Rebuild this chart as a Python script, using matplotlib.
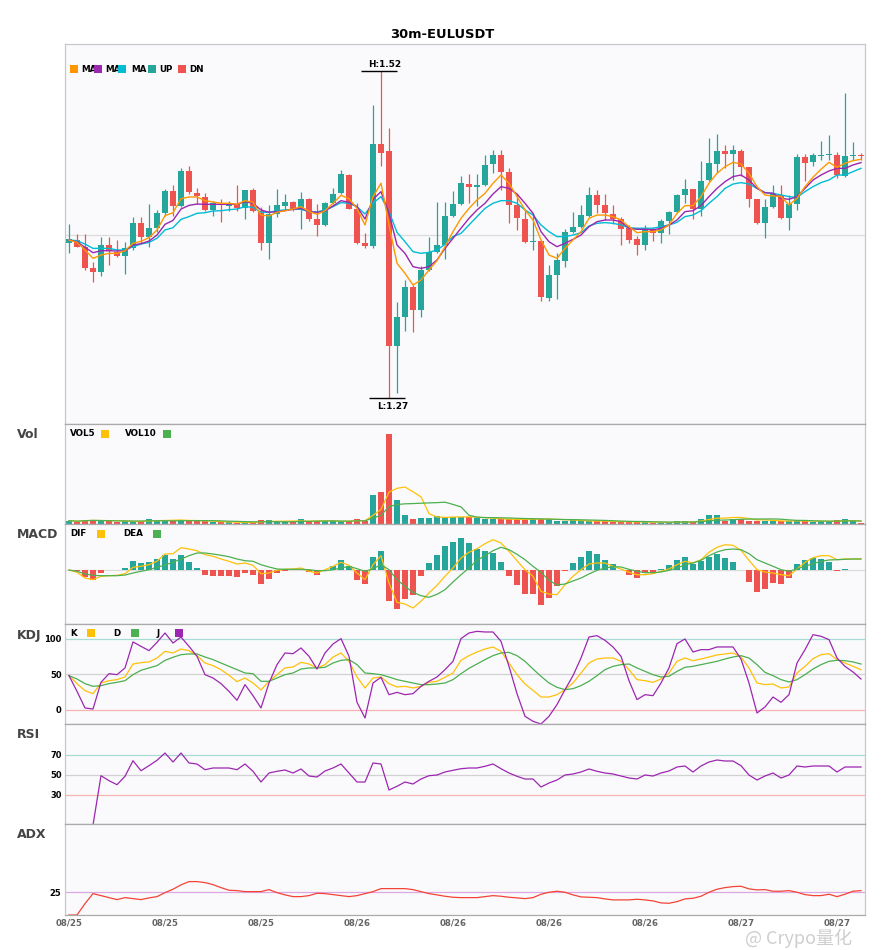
#!/usr/bin/env python3
"""Recreates the 30m EULUSDT candle chart with Vol / MACD / KDJ / RSI / ADX panels."""

import matplotlib

matplotlib.use("Agg")
import matplotlib.pyplot as plt
from matplotlib.patches import Rectangle

TITLE = "30m-EULUSDT"
DATE_TICKS = [0, 12, 24, 36, 48, 60, 72, 84, 96]
DATE_LABELS = ["08/25", "08/25", "08/25", "08/26", "08/26", "08/26", "08/26", "08/27", "08/27"]
REF_PRICE = 1.395

OPEN = [1.3889, 1.3910, 1.3854, 1.3695, 1.3667, 1.3871, 1.3815, 1.3790, 1.3846, 1.4040,
        1.3935, 1.4001, 1.4116, 1.4285, 1.4170, 1.4438, 1.4269, 1.4239, 1.4139, 1.4185,
        1.4172, 1.4183, 1.4152, 1.4292, 1.4134, 1.3889, 1.4112, 1.4172, 1.4200, 1.4139,
        1.4223, 1.4070, 1.4027, 1.4193, 1.4269, 1.4407, 1.4149, 1.3887, 1.3866, 1.4644,
        1.4591, 1.3102, 1.3321, 1.3550, 1.3374, 1.3680, 1.3818, 1.3871, 1.4093, 1.4185,
        1.4338, 1.4318, 1.4330, 1.4491, 1.4560, 1.4430, 1.4177, 1.4070, 1.3897, 1.3902,
        1.3469, 1.3642, 1.3752, 1.3971, 1.4009, 1.4093, 1.4254, 1.4177, 1.4109, 1.4070,
        1.4001, 1.3917, 1.3871, 1.3994, 1.3963, 1.4055, 1.4124, 1.4254, 1.4300, 1.4147,
        1.4369, 1.4491, 1.4591, 1.4568, 1.4591, 1.4468, 1.4223, 1.4040, 1.4162, 1.4254,
        1.4078, 1.4185, 1.4545, 1.4506, 1.4555, 1.4562, 1.4560, 1.4399, 1.4555, 1.4560]
HIGH = [1.4032, 1.3953, 1.3953, 1.3739, 1.3933, 1.3933, 1.3907, 1.3894, 1.4088, 1.4088,
        1.4185, 1.4142, 1.4297, 1.4330, 1.4463, 1.4476, 1.4310, 1.4272, 1.4211, 1.4223,
        1.4205, 1.4330, 1.4295, 1.4307, 1.4165, 1.4177, 1.4297, 1.4262, 1.4211, 1.4274,
        1.4228, 1.4185, 1.4200, 1.4307, 1.4445, 1.4415, 1.4190, 1.3966, 1.4943, 1.5200,
        1.4767, 1.3435, 1.3604, 1.3565, 1.3713, 1.3933, 1.4200, 1.4198, 1.4285, 1.4399,
        1.4415, 1.4415, 1.4560, 1.4598, 1.4598, 1.4460, 1.4262, 1.4139, 1.4116, 1.3910,
        1.3718, 1.3808, 1.3994, 1.4124, 1.4177, 1.4315, 1.4292, 1.4262, 1.4177, 1.4086,
        1.4024, 1.3940, 1.4024, 1.4009, 1.4070, 1.4132, 1.4262, 1.4377, 1.4302, 1.4514,
        1.4690, 1.4721, 1.4637, 1.4637, 1.4606, 1.4470, 1.4225, 1.4223, 1.4330, 1.4330,
        1.4254, 1.4568, 1.4568, 1.4575, 1.4667, 1.4713, 1.4583, 1.5034, 1.4659, 1.4575]
LOW = [1.3808, 1.3854, 1.3680, 1.3591, 1.3637, 1.3718, 1.3777, 1.3650, 1.3833, 1.3884,
       1.3859, 1.3973, 1.4093, 1.4093, 1.4165, 1.4262, 1.4188, 1.4132, 1.4096, 1.4050,
       1.4129, 1.4134, 1.4070, 1.4126, 1.3833, 1.3767, 1.4088, 1.4139, 1.4134, 1.3994,
       1.4058, 1.3943, 1.4019, 1.4185, 1.4262, 1.4144, 1.3882, 1.3846, 1.3846, 1.4476,
       1.2700, 1.2737, 1.3216, 1.3208, 1.3323, 1.3675, 1.3808, 1.3767, 1.4088, 1.4177,
       1.4190, 1.4172, 1.4325, 1.4425, 1.4292, 1.4040, 1.3986, 1.3887, 1.3833, 1.3446,
       1.3446, 1.3461, 1.3706, 1.3966, 1.4004, 1.4088, 1.4114, 1.4063, 1.4033, 1.3874,
       1.3887, 1.3795, 1.3833, 1.3902, 1.3887, 1.3956, 1.4116, 1.4193, 1.4070, 1.4093,
       1.4361, 1.4422, 1.4460, 1.4369, 1.4399, 1.4162, 1.4033, 1.3925, 1.4155, 1.4070,
       1.3986, 1.4139, 1.4361, 1.4476, 1.4522, 1.4522, 1.4384, 1.4392, 1.4522, 1.4522]
CLOSE = [1.3915, 1.3859, 1.3695, 1.3667, 1.3871, 1.3828, 1.3790, 1.3846, 1.4040, 1.3935,
         1.4001, 1.4116, 1.4285, 1.4170, 1.4438, 1.4277, 1.4249, 1.4139, 1.4193, 1.4180,
         1.4183, 1.4157, 1.4292, 1.4134, 1.3889, 1.4112, 1.4177, 1.4200, 1.4149, 1.4223,
         1.4070, 1.4027, 1.4193, 1.4262, 1.4415, 1.4149, 1.3887, 1.3866, 1.4644, 1.4578,
         1.3102, 1.3321, 1.3550, 1.3374, 1.3680, 1.3818, 1.3871, 1.4093, 1.4185, 1.4346,
         1.4315, 1.4328, 1.4483, 1.4560, 1.4430, 1.4177, 1.4078, 1.3894, 1.3902, 1.3476,
         1.3642, 1.3757, 1.3971, 1.4009, 1.4101, 1.4254, 1.4177, 1.4116, 1.4070, 1.3994,
         1.3910, 1.3871, 1.3994, 1.3963, 1.4055, 1.4124, 1.4254, 1.4300, 1.4147, 1.4361,
         1.4499, 1.4591, 1.4568, 1.4598, 1.4468, 1.4223, 1.4040, 1.4162, 1.4262, 1.4078,
         1.4185, 1.4545, 1.4499, 1.4560, 1.4560, 1.4568, 1.4407, 1.4552, 1.4560, 1.4555]

MA5 = [1.3910, 1.3892, 1.3834, 1.3770, 1.3795, 1.3808, 1.3808, 1.3828, 1.3885, 1.3900,
       1.3928, 1.3987, 1.4096, 1.4119, 1.4226, 1.4239, 1.4239, 1.4211, 1.4201, 1.4191,
       1.4191, 1.4183, 1.4211, 1.4198, 1.4101, 1.4094, 1.4122, 1.4134, 1.4147, 1.4165,
       1.4129, 1.4106, 1.4134, 1.4191, 1.4252, 1.4226, 1.4152, 1.4025, 1.4242, 1.4344,
       1.4025, 1.3732, 1.3655, 1.3566, 1.3604, 1.3681, 1.3752, 1.3859, 1.3974, 1.4076,
       1.4152, 1.4216, 1.4267, 1.4344, 1.4407, 1.4344, 1.4242, 1.4140, 1.4063, 1.3910,
       1.3795, 1.3770, 1.3846, 1.3910, 1.3974, 1.4076, 1.4101, 1.4101, 1.4089, 1.4063,
       1.4012, 1.3966, 1.3974, 1.3974, 1.3987, 1.4025, 1.4114, 1.4173, 1.4173, 1.4242,
       1.4344, 1.4420, 1.4471, 1.4504, 1.4491, 1.4420, 1.4318, 1.4254, 1.4247, 1.4242,
       1.4178, 1.4229, 1.4318, 1.4390, 1.4451, 1.4504, 1.4466, 1.4497, 1.4517, 1.4527]
MA10 = [1.3910, 1.3897, 1.3854, 1.3813, 1.3828, 1.3828, 1.3826, 1.3826, 1.3872, 1.3882,
        1.3902, 1.3948, 1.4030, 1.4060, 1.4147, 1.4175, 1.4185, 1.4183, 1.4183, 1.4183,
        1.4183, 1.4183, 1.4203, 1.4191, 1.4140, 1.4122, 1.4127, 1.4134, 1.4145, 1.4152,
        1.4127, 1.4122, 1.4132, 1.4170, 1.4211, 1.4198, 1.4165, 1.4071, 1.4221, 1.4280,
        1.4114, 1.3872, 1.3808, 1.3706, 1.3693, 1.3706, 1.3757, 1.3846, 1.3923, 1.4000,
        1.4076, 1.4140, 1.4191, 1.4262, 1.4318, 1.4305, 1.4262, 1.4191, 1.4114, 1.3974,
        1.3897, 1.3859, 1.3885, 1.3915, 1.3948, 1.4012, 1.4050, 1.4063, 1.4063, 1.4050,
        1.4000, 1.3992, 1.3992, 1.3987, 1.4000, 1.4025, 1.4063, 1.4127, 1.4134, 1.4173,
        1.4242, 1.4305, 1.4356, 1.4395, 1.4407, 1.4369, 1.4305, 1.4272, 1.4267, 1.4229,
        1.4221, 1.4242, 1.4305, 1.4369, 1.4407, 1.4438, 1.4458, 1.4458, 1.4484, 1.4502]
MA20 = [1.3910, 1.3905, 1.3879, 1.3846, 1.3846, 1.3846, 1.3834, 1.3834, 1.3859, 1.3879,
        1.3892, 1.3923, 1.3987, 1.4004, 1.4068, 1.4089, 1.4114, 1.4119, 1.4132, 1.4134,
        1.4142, 1.4147, 1.4165, 1.4160, 1.4122, 1.4122, 1.4134, 1.4140, 1.4145, 1.4145,
        1.4127, 1.4124, 1.4140, 1.4165, 1.4196, 1.4191, 1.4165, 1.4109, 1.4191, 1.4242,
        1.4127, 1.3969, 1.3897, 1.3821, 1.3808, 1.3816, 1.3834, 1.3877, 1.3936, 1.3961,
        1.4025, 1.4089, 1.4152, 1.4191, 1.4211, 1.4211, 1.4191, 1.4140, 1.4101, 1.4025,
        1.3974, 1.3936, 1.3936, 1.3948, 1.3966, 1.4017, 1.4038, 1.4043, 1.4038, 1.4025,
        1.4004, 1.4000, 1.4000, 1.4000, 1.4012, 1.4025, 1.4045, 1.4089, 1.4101, 1.4134,
        1.4191, 1.4242, 1.4305, 1.4338, 1.4349, 1.4338, 1.4305, 1.4272, 1.4267, 1.4254,
        1.4242, 1.4236, 1.4280, 1.4318, 1.4349, 1.4369, 1.4407, 1.4407, 1.4433, 1.4458]

VOLUME = [10, 7, 13, 13, 9, 8, 6, 9, 6, 9,
          16, 9, 13, 9, 13, 9, 8, 8, 5, 5,
          5, 4, 4, 5, 13, 13, 6, 6, 6, 16,
          8, 9, 8, 8, 8, 10, 16, 8, 88, 95,
          271, 73, 28, 16, 19, 19, 24, 21, 21, 21,
          21, 17, 14, 14, 14, 14, 14, 14, 16, 16,
          14, 10, 8, 12, 8, 8, 8, 8, 6, 6,
          6, 6, 6, 4, 4, 4, 8, 10, 6, 16,
          28, 28, 10, 16, 16, 10, 10, 10, 8, 8,
          8, 13, 8, 6, 8, 6, 13, 16, 8, 2]
VOL5 = [10, 8.5, 10, 10.8, 10.4, 10, 9.8, 9, 7.6, 7.6,
        9.2, 9.8, 10.6, 11.2, 12, 10.6, 10.4, 9.4, 8.6, 7,
        6.2, 5.4, 4.6, 4.6, 6.2, 7.8, 8.2, 8.6, 8.8, 9.4,
        8.4, 9, 9.4, 9.8, 8.2, 8.6, 10, 10, 26, 43.4,
        95.6, 107, 111, 96.6, 81.4, 31, 21.2, 19.8, 20.8, 21.2,
        21.6, 20.2, 18.8, 17.4, 16, 14.6, 14, 14, 14.4, 14.8,
        14.8, 14, 12.8, 12, 10.4, 9.2, 8.8, 8.8, 7.6, 7.2,
        6.8, 6.4, 6, 5.6, 5.2, 4.8, 5.2, 6, 6.4, 8.8,
        13.6, 17.6, 17.6, 19.6, 19.6, 16, 12.4, 12.4, 10.8, 9.2,
        8.8, 9.4, 9, 8.6, 8.6, 8.2, 8.2, 9.8, 10.2, 9]
VOL10 = [10, 8.5, 10, 10.8, 10.4, 10, 9.4, 9.4, 9, 9,
         9.6, 9.8, 9.8, 9.4, 9.8, 9.9, 10.1, 10, 9.9, 9.5,
         8.4, 7.9, 7, 6.6, 6.6, 7, 6.8, 6.6, 6.7, 7.8,
         8.1, 8.6, 9, 9.3, 8.8, 8.5, 9.5, 9.7, 17.9, 25.8,
         52.1, 58.5, 60.5, 61.3, 62.4, 63.3, 64.1, 65.4, 58.7, 51.3,
         26.3, 20.7, 19.3, 19.1, 18.6, 18.1, 17.1, 16.4, 15.9, 15.4,
         14.7, 14, 13.4, 13.2, 12.6, 12, 11.4, 10.8, 9.8, 8.8,
         8, 7.6, 7.4, 6.6, 6.2, 5.8, 5.8, 6, 6, 7,
         9.2, 11.4, 11.8, 13, 14.2, 14.8, 15, 15, 15.2, 14.4,
         12.4, 10.9, 10.7, 9.7, 8.9, 8.5, 8.8, 9.4, 9.4, 8.8]

# MACD in units of 1e-4
DIF = [0, -2.3, -8, -9.7, -6.3, -5.7, -5.3, -3.7, 2.7, 3.7,
       5.3, 8.7, 16, 16.3, 22.3, 21, 19.3, 15.3, 13.7, 11,
       8.7, 6, 7, 4.7, -3.7, -3, -0.3, 0.7, 1, 2,
       -1.3, -3, 0.3, 3.7, 7.7, 4.7, -3, -9.7, 5.3, 14.3,
       -13, -32.3, -34, -38, -31.3, -23, -15.3, -6.3, 2, 12,
       17.7, 21.3, 26.3, 30.3, 27, 18.7, 9.3, 0.3, -6.3, -21.3,
       -24, -24.7, -14.7, -6.3, 0.3, 6, 7, 7, 3.7, 1,
       -2.3, -4.7, -4.7, -3.7, -1.3, 1, 5.3, 8.7, 7, 10.3,
       17.7, 22.7, 25.3, 24.7, 19.7, 9.7, 0.3, -2, -3, -4.7,
       -5.7, 1, 7.7, 12.3, 14.3, 14.3, 10.3, 11, 11, 11]
DEA = [0, -1.3, -4, -5.3, -5.7, -5.7, -5.7, -5, -3, -1.3,
       0.3, 2.7, 5, 7.7, 11, 14.3, 17, 17, 16, 14.7,
       13.3, 11, 9.3, 8.7, 5.3, 3, 1, 0.7, 0.7, 0.7,
       0.3, -0.7, -0.7, 0.3, 2, 3.7, 1.3, -1.3, 1.3, 5.3,
       0.3, -9.7, -16.3, -22.3, -25.7, -27.3, -24.3, -19.7, -12, -4.7,
       2, 9.7, 14.3, 19.3, 22.7, 20.3, 15.7, 10.3, 3.7, -2.3,
       -10.3, -15, -14, -11, -8, -4, -0.3, 2, 3.3, 3,
       0.7, -1.3, -2.7, -2.7, -2, -0.3, 2, 5.3, 7, 9.7,
       14.3, 18, 20.3, 21, 20.3, 16.3, 10.3, 7, 3.7, 0.3,
       -1.3, 1, 3.7, 6.3, 8.7, 10, 10.3, 10.7, 11, 11]
MACD_HIST = [0, -1.3, -7.3, -10.3, -3, 0, 0, 2.3, 9.3, 7.3,
             8.3, 11.3, 15.3, 10.7, 15.3, 8.3, 2.3, -4.7, -6.3, -6.3,
             -6.3, -7.3, -2.7, -5.3, -14.3, -9.3, -3.3, -0.7, -0.3, 0.3,
             -2.3, -5.3, -0.7, 4.3, 10.3, 3.7, -10.3, -14.3, 12.7, 19.3,
             -31.3, -39, -28.7, -24.7, -6.3, 7.3, 15.3, 24.3, 28.3, 31.7,
             27.3, 21.3, 19.3, 17.3, 8.3, -6.3, -15.3, -24.3, -24.3, -35.3,
             -28.3, -16.3, -1.3, 7.3, 13.3, 19.3, 16.3, 10.3, 5.7, -0.3,
             -5.3, -8.3, -3.3, -3.3, 1.3, 5.3, 10.3, 12.7, 6.3, 9.3,
             13.3, 15.7, 12.3, 8.3, 0, -12.3, -22.3, -19.3, -13.3, -14.3,
             -8.3, 6.3, 10.3, 12.3, 11.3, 8.3, -0.7, 1, 0, 0]

K = [48.1, 36.8, 26.9, 22.6, 37.7, 41, 42.5, 46.2, 64.6, 66.5,
     67.5, 73.1, 82.5, 80.2, 85.8, 83.5, 76.4, 66, 62.3, 56.6,
     48.6, 39.6, 44.8, 37.7, 27.8, 40.1, 49.5, 59, 60.4, 67,
     64.6, 59, 63.7, 74.5, 80.2, 68.4, 46.2, 30.7, 44.8, 46.2,
     36.8, 32.1, 33, 30.7, 33, 38.7, 40.1, 45.8, 51.9, 69.8,
     76.4, 81.6, 85.8, 88.7, 82.5, 66, 49.5, 36.3, 27.4, 17.9,
     17.9, 21.2, 28.3, 37.7, 51.9, 66, 71.7, 73.1, 73.1, 68.4,
     56.6, 42.5, 41, 38.7, 43.4, 51.9, 68.4, 73.1, 69.3, 71.7,
     74.5, 77.4, 78.8, 80.2, 74.5, 59, 37.7, 35.4, 36.3, 30.7,
     32.1, 51.9, 61.3, 72.2, 77.8, 79.2, 70.8, 66, 61.3, 56.6]
D = [48.1, 43.4, 36.8, 33, 34, 36.8, 38.7, 41, 49.5, 55.7,
     59, 62.3, 69.8, 74.1, 77.8, 78.8, 78.8, 74.5, 70.8, 66,
     61.3, 56.6, 51.9, 50.9, 40.1, 40.1, 44.8, 49.5, 51.9, 57.5,
     59, 59, 59.9, 66, 69.8, 70.8, 63.7, 51.9, 50.9, 49.5,
     46.2, 42.5, 40.1, 37.7, 35.4, 35.4, 36.3, 37.7, 42.5, 50.9,
     58.5, 64.6, 70.8, 76.4, 80.2, 81.1, 76.4, 68.4, 57.5, 47.2,
     37.7, 31.6, 28.3, 29.7, 34, 40.1, 48.1, 56.6, 61.3, 63.7,
     64.6, 59, 54.2, 49.5, 46.2, 47.2, 54.2, 59.9, 61.3, 63.7,
     66, 68.4, 71.7, 74.5, 76.4, 73.1, 63.7, 52.8, 48.1, 42.5,
     39.2, 42.5, 49.5, 57.5, 63.7, 68.4, 69.8, 69.3, 67.5, 64.6]
J = [48.1, 25.9, 2.4, 0.9, 38.7, 50.9, 49.5, 59, 95.8, 89.6,
     83.5, 95.3, 108.5, 94.3, 102.8, 89.6, 75.5, 49.5, 44.8, 36.8,
     25.9, 13.2, 35.4, 19.8, 2.4, 37.7, 63.7, 80.2, 79.2, 87.3,
     75.5, 57.5, 80.2, 92.9, 100.5, 75.5, 10.4, -11.8, 37.7, 45.8,
     21.2, 24.5, 21.2, 22.6, 33, 40.1, 46.2, 56.6, 68.4, 100.5,
     108.5, 110.8, 109.9, 109.9, 96.7, 61.3, 22.6, -9.4, -16.5, -20.3,
     -9.4, 7.1, 28.3, 48.1, 73.1, 102.8, 104.7, 98.1, 88.7, 75.5,
     41, 14.2, 21.2, 19.8, 37.7, 59, 93.4, 100, 81.6, 84.9,
     84.9, 88.7, 88.7, 88.7, 71.7, 37.7, -4.7, 3.8, 17.9, 10.4,
     21.2, 66, 84.9, 106.1, 103.8, 99.1, 73.1, 61.3, 53.3, 43.4]

RSI = [0, 0, 0, 0, 49.3, 44.3, 40.3, 48.7, 64.3, 54.3,
       59.3, 64.7, 72, 63, 72, 62, 61, 55.3, 57, 57,
       57, 55.3, 61, 53.7, 43, 52, 53.7, 55, 52, 56,
       49, 48, 54, 57, 61, 52, 43, 43, 62, 61,
       35, 38.7, 43, 41, 46, 49.3, 50, 53, 54.7, 56.3,
       57, 57, 58.7, 61, 56.3, 52, 48.7, 46, 46, 38,
       42, 45, 50, 51, 53, 56, 53.7, 52, 51, 49,
       47, 46, 50, 49, 52, 54, 58, 59, 53, 59,
       63, 65, 64, 64, 59.3, 50, 45, 49, 52, 47,
       50, 59, 58, 59, 59, 59, 53, 58, 58, 58]

ADX = [0, 0, 12.5, 23.5, 21.3, 19.1, 16.9, 19.1, 18, 16.9,
       18.8, 20.2, 24.6, 28.3, 33.1, 36.7, 36.7, 35.6, 33.4, 30.1,
       27.2, 26.8, 25.7, 25.7, 25.7, 27.9, 24.6, 22.1, 20.2, 20.2,
       21.3, 23.9, 23.5, 22.4, 21.3, 20.2, 21.3, 23.5, 25.7, 29,
       29, 29, 29, 27.9, 25.7, 23.5, 22.1, 20.6, 19.5, 19.1,
       19.1, 19.1, 20.2, 21.3, 20.6, 19.5, 18.8, 18, 19.1, 22.8,
       25, 26.1, 25, 22.1, 19.9, 19.5, 19.1, 17.7, 16.6, 16.6,
       16.6, 17.3, 16.6, 15.5, 13.3, 12.9, 14.7, 17.7, 18.4, 20.6,
       25, 28.3, 30.1, 31.2, 31.6, 28.7, 27.6, 27.9, 26.1, 26.1,
       26.8, 25, 22.4, 21.3, 21.3, 22.8, 20.2, 22.8, 26.1, 26.8]

COLOR_UP = "#26a69a"
COLOR_DN = "#ef5350"
COLOR_BG = "#fafafc"
C_MA5, C_MA10, C_MA20 = "#ff9800", "#9c27b0", "#00bcd4"
C_YEL, C_GRN, C_PUR = "#ffc107", "#4caf50", "#9c27b0"
C_ADX = "#f44336"
LINE_HI, LINE_MID, LINE_LO = "#a8dbd4", "#d2d2d2", "#f7b2b2"

W, H = 885, 950


def fx(px):
    return px / W


def fy(py):
    return 1 - py / H


def square(fig, x, y, color, size=8):
    fig.add_artist(Rectangle((fx(x), fy(y + size / 2)), size / W, size / H,
                             transform=fig.transFigure, facecolor=color,
                             edgecolor="none", zorder=6))


def label(fig, x, y, text, size=6.3):
    fig.text(fx(x), fy(y), text, fontsize=size, fontweight="bold",
             ha="left", va="center", zorder=5)


def style_axis(ax, top_color="#aaaaaa"):
    ax.set_facecolor(COLOR_BG)
    ax.spines["top"].set_color(top_color)
    ax.spines["bottom"].set_color("#aaaaaa")
    ax.spines["left"].set_color("#c8c8cc")
    ax.spines["right"].set_color("#c8c8cc")
    for s in ax.spines.values():
        s.set_linewidth(0.9)
    ax.tick_params(axis="x", length=0, labelbottom=False)
    ax.tick_params(axis="y", length=0, pad=2.5, labelsize=6)
    for t in ax.get_yticklabels():
        t.set_fontweight("bold")


def main():
    n = len(CLOSE)
    idx = list(range(n))
    up = [c >= o for o, c in zip(OPEN, CLOSE)]
    candle_colors = [COLOR_UP if u else COLOR_DN for u in up]

    fig = plt.figure(figsize=(W / 100, H / 100), dpi=100)
    gs = fig.add_gridspec(6, 1, height_ratios=[380, 100, 100, 100, 100, 91],
                          left=fx(65), right=fx(865), top=fy(44), bottom=fy(915), hspace=0)
    ax_p = fig.add_subplot(gs[0])
    axes = [ax_p] + [fig.add_subplot(gs[i], sharex=ax_p) for i in range(1, 6)]
    ax_p, ax_v, ax_m, ax_k, ax_r, ax_a = axes

    # price panel
    ax_p.axhline(REF_PRICE, color="#dcdcdc", lw=0.9, zorder=0)
    ax_p.vlines(idx, LOW, HIGH, colors=candle_colors, linewidth=0.9, zorder=2)
    bottoms = [min(o, c) for o, c in zip(OPEN, CLOSE)]
    heights = [max(abs(c - o), 0.0006) for o, c in zip(OPEN, CLOSE)]
    ax_p.bar(idx, heights, bottom=bottoms, width=0.7, color=candle_colors, zorder=3)
    ax_p.plot(idx, MA20, color=C_MA20, lw=1.0, zorder=4)
    ax_p.plot(idx, MA10, color=C_MA10, lw=1.0, zorder=4)
    ax_p.plot(idx, MA5, color=C_MA5, lw=1.0, zorder=4)
    hi = max(idx, key=lambda i: HIGH[i])
    lo = min(idx, key=lambda i: LOW[i])
    ax_p.hlines(HIGH[hi], hi - 2.5, hi + 2, color="black", lw=1.0, zorder=5)
    ax_p.annotate(f"H:{HIGH[hi]:.2f}", (hi + 0.5, HIGH[hi]), xytext=(0, 2),
                  textcoords="offset points", ha="center", va="bottom",
                  fontsize=6.4, fontweight="bold")
    ax_p.hlines(LOW[lo], lo - 2.5, lo + 2, color="black", lw=1.0, zorder=5)
    ax_p.annotate(f"L:{LOW[lo]:.2f}", (lo + 0.5, LOW[lo]), xytext=(0, -3),
                  textcoords="offset points", ha="center", va="top",
                  fontsize=6.4, fontweight="bold")
    ax_p.set_ylim(1.2503, 1.5409)
    ax_p.set_yticks([])

    # volume
    ax_v.bar(idx, VOLUME, width=0.65, color=candle_colors, zorder=2)
    ax_v.plot(idx, VOL5, color=C_YEL, lw=0.9, zorder=3)
    ax_v.plot(idx, VOL10, color=C_GRN, lw=0.9, zorder=3)
    ax_v.set_ylim(0, max(VOLUME) * 1.107)
    ax_v.set_yticks([])

    # MACD
    hist_colors = [COLOR_UP if h >= 0 else COLOR_DN for h in MACD_HIST]
    ax_m.axhline(0, color="#dcdcdc", lw=0.9, zorder=0)
    ax_m.bar(idx, MACD_HIST, width=0.65, color=hist_colors, zorder=2)
    ax_m.plot(idx, DIF, color=C_YEL, lw=0.9, zorder=3)
    ax_m.plot(idx, DEA, color=C_GRN, lw=0.9, zorder=3)
    ax_m.set_ylim(-54, 46)
    ax_m.set_yticks([])

    # KDJ
    for lvl, c in ((100, LINE_HI), (50, LINE_MID), (0, LINE_LO)):
        ax_k.axhline(lvl, color=c, lw=0.9, zorder=0)
    ax_k.plot(idx, K, color=C_YEL, lw=0.9)
    ax_k.plot(idx, D, color=C_GRN, lw=0.9)
    ax_k.plot(idx, J, color=C_PUR, lw=0.9)
    ax_k.set_ylim(-20.3, 121.2)
    ax_k.set_yticks([0, 50, 100])

    # RSI
    for lvl, c in ((70, LINE_HI), (50, LINE_MID), (30, LINE_LO)):
        ax_r.axhline(lvl, color=c, lw=0.9, zorder=0)
    ax_r.plot(idx, RSI, color=C_PUR, lw=0.9)
    ax_r.set_ylim(1, 101)
    ax_r.set_yticks([30, 50, 70])

    # ADX
    ax_a.axhline(25, color="#dca8e4", lw=0.9, zorder=0)
    ax_a.plot(idx, ADX, color=C_ADX, lw=0.9)
    ax_a.set_ylim(0, 100)
    ax_a.set_yticks([25])

    ax_p.set_xlim(-0.5, n - 0.5)
    style_axis(ax_p, top_color="#c8c8cc")
    for ax in axes[1:]:
        style_axis(ax)
    ax_a.set_xticks(DATE_TICKS)
    ax_a.set_xticklabels(DATE_LABELS)
    ax_a.tick_params(axis="x", labelbottom=True, length=0, pad=2.5,
                     labelsize=6.2, labelcolor="#666666")
    for t in ax_a.get_xticklabels():
        t.set_fontweight("bold")

    # titles and panel names
    fig.text(0.5, fy(34), TITLE, ha="center", va="center", fontsize=9.4, fontweight="bold")
    for name, y in (("Vol", 434.5), ("MACD", 534.5), ("KDJ", 635), ("RSI", 734.5), ("ADX", 834.5)):
        fig.text(fx(17), fy(y), name, ha="left", va="center", fontsize=9,
                 fontweight="bold", color="#444444")

    # legends
    for x_sq, x_txt, color, txt in ((70, 81, C_MA5, "MA"), (94, 105, C_MA10, "MA"),
                                     (118, 131.5, C_MA20, "MA"), (148, 159, COLOR_UP, "UP"),
                                     (178, 189, COLOR_DN, "DN")):
        square(fig, x_sq, 69, color)
        label(fig, x_txt, 69, txt)
    label(fig, 70, 434, "VOL5")
    square(fig, 101, 434, C_YEL)
    label(fig, 125, 434, "VOL10")
    square(fig, 163, 434, C_GRN)
    label(fig, 70, 533.7, "DIF")
    square(fig, 97, 533.7, C_YEL)
    label(fig, 123, 533.7, "DEA")
    square(fig, 153, 533.7, C_GRN)
    label(fig, 70, 633.3, "K")
    square(fig, 87, 633.3, C_YEL)
    label(fig, 113, 633.3, "D")
    square(fig, 131, 633.3, C_GRN)
    label(fig, 157, 633.3, "J")
    square(fig, 175, 633.3, C_PUR)

    # watermark, kept just under the date labels
    fig.text(fx(745), fy(938), "@ Crypo量化", ha="left", va="center", fontsize=13,
             color="#c9c9c9", alpha=0.9, family=["Noto Sans CJK SC", "DejaVu Sans"], zorder=10)

    fig.savefig("out.png", dpi=100, facecolor="white")
    plt.close(fig)


if __name__ == "__main__":
    main()
